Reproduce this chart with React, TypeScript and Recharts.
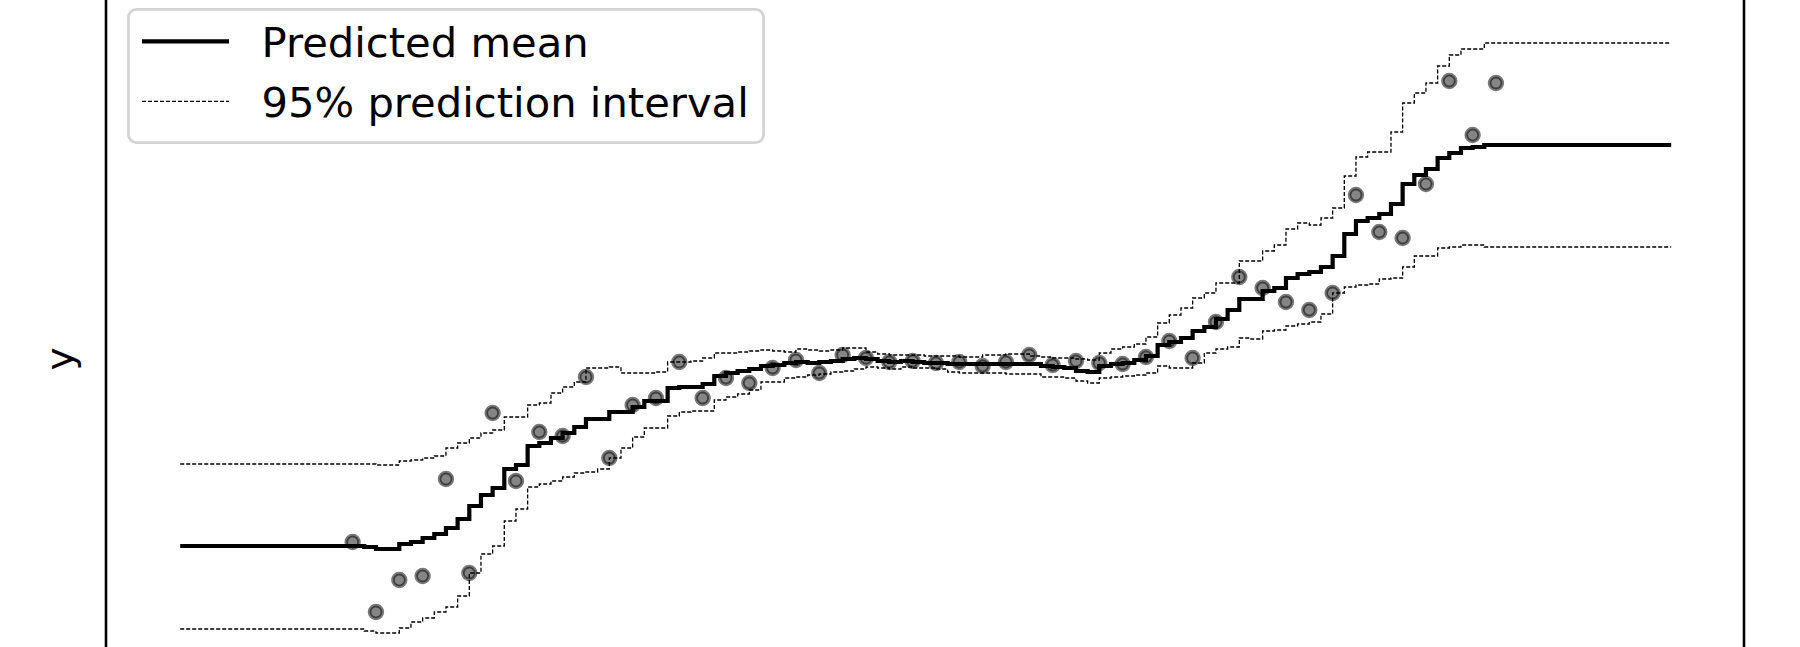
import React from "react";
import { ComposedChart, Line, Scatter, XAxis, YAxis, Legend } from "recharts";

// x is in units of sample index; step grid runs on half-steps
const X_START = -7.39;
const X_END = 56.51;

const MEAN = [
  -1.81, -1.82, -1.84, -1.84, -1.79, -1.77, -1.73, -1.69, -1.63, -1.54,
  -1.41, -1.3, -1.23, -1.04, -1.0, -0.81, -0.78, -0.73, -0.68, -0.62,
  -0.54, -0.54, -0.47, -0.47, -0.42, -0.36, -0.36, -0.23, -0.22, -0.22,
  -0.19, -0.11, -0.08, -0.06, -0.04, -0.01, 0.0, 0.02, 0.03, 0.02,
  0.03, 0.04, 0.06, 0.07, 0.06, 0.04, 0.03, 0.04, 0.03, 0.02,
  0.02, 0.01, 0.01, 0.01, 0.01, 0.01, 0.01, 0.01, 0.01, -0.01,
  -0.02, -0.03, -0.06, -0.07, -0.01, 0.01, 0.02, 0.05, 0.09, 0.2,
  0.23, 0.27, 0.34, 0.38, 0.46, 0.55, 0.66, 0.66, 0.74, 0.77,
  0.87, 0.91, 0.93, 0.98, 1.09, 1.31, 1.44, 1.47, 1.51, 1.61,
  1.81, 1.9, 1.96, 2.07, 2.12, 2.17, 2.18, 2.2,
];

const UPPER = [
  -0.99, -0.99, -1.0, -1.0, -0.96, -0.95, -0.93, -0.91, -0.83, -0.78,
  -0.73, -0.68, -0.65, -0.52, -0.52, -0.4, -0.38, -0.28, -0.22, -0.17,
  -0.03, -0.03, -0.02, -0.08, -0.08, -0.08, -0.07, 0.03, 0.03, 0.04,
  0.07, 0.12, 0.12, 0.13, 0.14, 0.15, 0.14, 0.13, 0.16, 0.15,
  0.14, 0.15, 0.17, 0.17, 0.13, 0.11, 0.1, 0.1, 0.1, 0.09,
  0.09, 0.09, 0.08, 0.08, 0.1, 0.1, 0.11, 0.11, 0.09, 0.08,
  0.07, 0.07, 0.06, 0.05, 0.12, 0.16, 0.18, 0.21, 0.28, 0.42,
  0.5, 0.57, 0.67, 0.72, 0.82, 0.82, 1.04, 1.04, 1.14, 1.2,
  1.36, 1.42, 1.4, 1.47, 1.57, 1.89, 2.08, 2.13, 2.13, 2.33,
  2.62, 2.72, 2.82, 2.99, 3.1, 3.16, 3.16, 3.22,
];

const LOWER = [
  -2.64, -2.66, -2.68, -2.68, -2.63, -2.57, -2.53, -2.47, -2.42, -2.31,
  -2.08, -1.89, -1.81, -1.56, -1.44, -1.22, -1.19, -1.16, -1.12, -1.08,
  -1.07, -1.04, -0.93, -0.83, -0.72, -0.63, -0.63, -0.51, -0.47, -0.46,
  -0.46, -0.35, -0.32, -0.29, -0.25, -0.17, -0.17, -0.13, -0.12, -0.1,
  -0.09, -0.07, -0.06, -0.04, -0.02, -0.03, -0.04, -0.02, -0.03, -0.03,
  -0.04, -0.07, -0.08, -0.08, -0.08, -0.08, -0.09, -0.09, -0.09, -0.12,
  -0.12, -0.13, -0.16, -0.18, -0.13, -0.12, -0.11, -0.1, -0.08, -0.01,
  -0.03, -0.03, 0.02, 0.12, 0.16, 0.18, 0.27, 0.26, 0.34, 0.35,
  0.39, 0.41, 0.43, 0.51, 0.72, 0.78, 0.8, 0.81, 0.86, 0.87,
  0.98, 1.09, 1.09, 1.17, 1.18, 1.2, 1.2, 1.18,
];

const POINT_Y = [
  -1.77, -2.47, -2.15, -2.11, -1.14, -2.08, -0.48, -1.16, -0.67, -0.71,
  -0.12, -0.93, -0.4, -0.33, 0.03, -0.33, -0.13, -0.18, -0.03, 0.05,
  -0.08, 0.1, 0.07, 0.03, 0.04, 0.02, 0.03, -0.01, 0.03, 0.1,
  0.0, 0.04, 0.02, 0.01, 0.08, 0.24, 0.07, 0.43, 0.88, 0.77,
  0.63, 0.55, 0.72, 1.7, 1.33, 1.27, 1.81, 2.84, 2.3, 2.82,
];

const X_DOMAIN = [-10.57, 59.63];
const Y_DOMAIN = [-2.82, 3.65];

const FONT = "DejaVu Sans";

const lineRows = MEAN.map((m, k) => ({
  x: k === 0 ? X_START : k / 2,
  mean: m,
  upper: UPPER[k],
  lower: LOWER[k],
}));
lineRows.push({
  x: X_END,
  mean: MEAN[MEAN.length - 1],
  upper: UPPER[UPPER.length - 1],
  lower: LOWER[LOWER.length - 1],
});

const points = POINT_Y.map((y, i) => ({ x: i, y }));

const LEGEND_ORDER = ["mean", "upper"];
const handleStyle: Record<string, { width: number; dash?: string }> = {
  mean: { width: 4.2 },
  upper: { width: 1.3, dash: "4 2" },
};

function renderLegend(props: any) {
  const items = (props.payload || [])
    .filter((p: any) => LEGEND_ORDER.includes(p.dataKey))
    .sort(
      (a: any, b: any) =>
        LEGEND_ORDER.indexOf(a.dataKey) - LEGEND_ORDER.indexOf(b.dataKey)
    );
  return (
    <svg width={638} height={136} style={{ display: "block" }}>
      <rect
        x={1.4}
        y={1.4}
        width={635.2}
        height={133.2}
        rx={8}
        fill="#fff"
        stroke="#d4d4d4"
        strokeWidth={2.8}
      />
      {items.map((item: any, i: number) => {
        const s = handleStyle[item.dataKey];
        const cy = 33.4 + i * 60;
        return (
          <g key={item.dataKey}>
            <line
              x1={15}
              x2={102}
              y1={cy}
              y2={cy}
              stroke="#000"
              strokeWidth={s.width}
              strokeDasharray={s.dash}
            />
            <text
              x={134.5}
              y={cy + 15.5}
              fontFamily={FONT}
              fontSize={41.7}
              fill="#000"
            >
              {item.value}
            </text>
          </g>
        );
      })}
    </svg>
  );
}

const renderYLabel = () => (
  <text
    x={72.5}
    y={359}
    transform="rotate(-90, 72.5, 359)"
    textAnchor="middle"
    fontFamily={FONT}
    fontSize={39}
    fill="#000"
  >
    y
  </text>
);

const renderPoint = (props: any) => (
  <circle
    cx={props.cx}
    cy={props.cy}
    r={6.4}
    fill="#000"
    fillOpacity={0.48}
    stroke="#000"
    strokeOpacity={0.52}
    strokeWidth={3.6}
  />
);

export default function App() {
  return (
    <div style={{ position: "absolute", left: 0, top: 0, background: "#fff" }}>
      <ComposedChart
        width={1800}
        height={647}
        data={lineRows}
        margin={{ top: 0, right: 0, bottom: 0, left: 0 }}
      >
        <XAxis
          dataKey="x"
          type="number"
          domain={X_DOMAIN}
          allowDataOverflow
          hide
        />
        <YAxis
          yAxisId="left"
          type="number"
          domain={Y_DOMAIN}
          allowDataOverflow
          width={106}
          tick={false}
          tickLine={false}
          axisLine={{ stroke: "#000", strokeWidth: 2.6 }}
          label={renderYLabel}
        />
        <YAxis
          yAxisId="right"
          orientation="right"
          type="number"
          domain={Y_DOMAIN}
          allowDataOverflow
          width={56}
          tick={false}
          tickLine={false}
          axisLine={{ stroke: "#000", strokeWidth: 2.6 }}
        />
        <Legend
          layout="vertical"
          align="center"
          verticalAlign="middle"
          content={renderLegend}
          wrapperStyle={{ left: 127, top: 8, width: 638, height: 136 }}
        />
        <Line
          yAxisId="left"
          type="stepAfter"
          dataKey="mean"
          name="Predicted mean"
          stroke="#000"
          strokeWidth={4.2}
          dot={false}
          activeDot={false}
          isAnimationActive={false}
        />
        <Line
          yAxisId="left"
          type="stepAfter"
          dataKey="upper"
          name="95% prediction interval"
          stroke="#000"
          strokeWidth={1.3}
          strokeDasharray="4 2"
          dot={false}
          activeDot={false}
          isAnimationActive={false}
        />
        <Line
          yAxisId="left"
          type="stepAfter"
          dataKey="lower"
          name="lower"
          legendType="none"
          stroke="#000"
          strokeWidth={1.3}
          strokeDasharray="4 2"
          dot={false}
          activeDot={false}
          isAnimationActive={false}
        />
        <Scatter
          yAxisId="left"
          data={points}
          dataKey="y"
          legendType="none"
          shape={renderPoint}
          isAnimationActive={false}
        />
      </ComposedChart>
    </div>
  );
}
